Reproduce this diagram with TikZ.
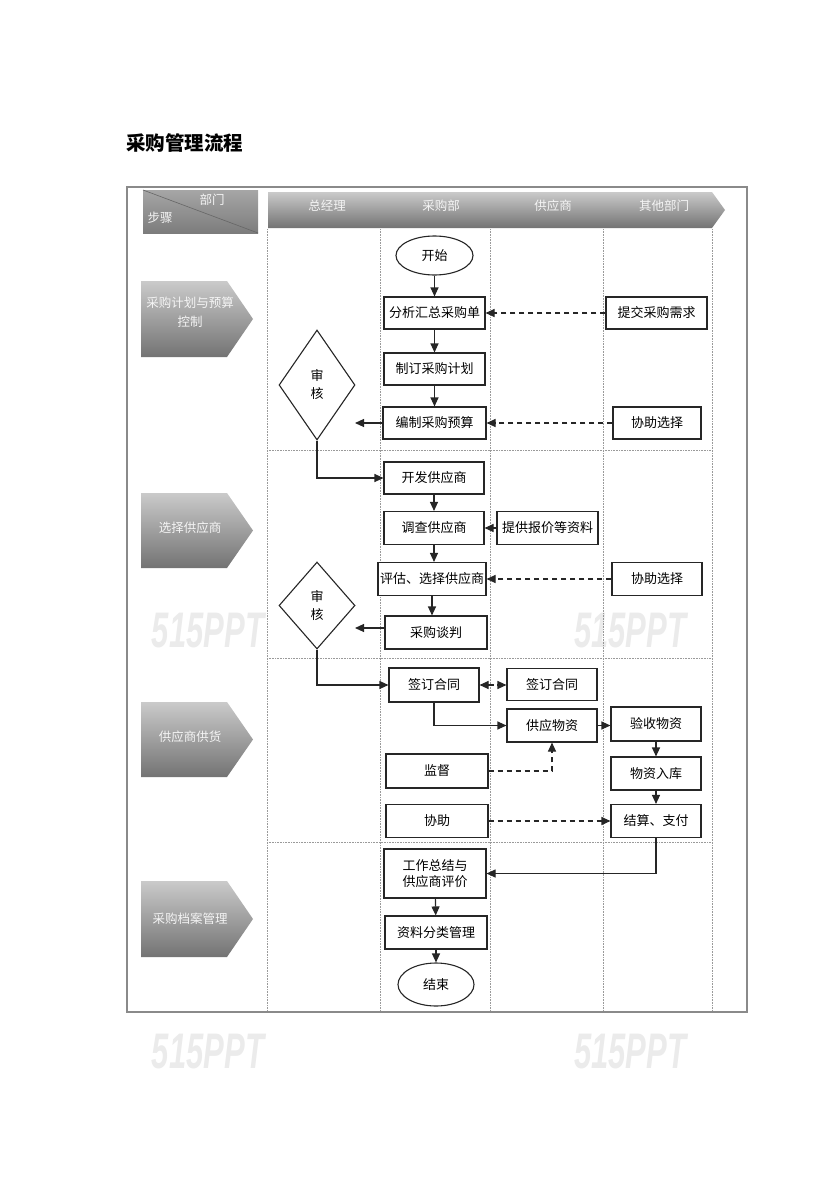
\documentclass[tikz,border=0pt]{standalone}
\usepackage{fontspec}
\setmainfont{Noto Sans CJK SC}
\newfontfamily\wmfont{Liberation Sans}
\usetikzlibrary{arrows.meta,shapes.geometric,calc}
\definecolor{ln}{HTML}{262626}
\definecolor{lane}{HTML}{9A9A9A}
\definecolor{frm}{HTML}{8A8A8A}
\definecolor{hdtop}{HTML}{CACACA}
\definecolor{hdbot}{HTML}{737373}
\definecolor{lbtop}{HTML}{A6A6A6}
\definecolor{lbbot}{HTML}{7C7C7C}
\definecolor{hdtxt}{HTML}{F4F4F4}
\tikzset{
 sz/.style 2 args={minimum width=#1pt, minimum height=#2pt},
 box/.style={draw=ln, line width=1.1pt, fill=white, inner sep=0pt, font=\fontsize{13}{16}\selectfont, align=center},
 term/.style={box, ellipse},
 dia/.style={draw=ln, line width=1.1pt, fill=white, diamond, inner sep=0pt, font=\fontsize{13}{18}\selectfont, align=center},
 flow/.style={draw=ln, line width=1.1pt, -{Triangle[length=9pt,width=8pt]}},
 dflow/.style={flow, dash pattern=on 5.5pt off 3.5pt},
 laneline/.style={draw=lane, line width=0.7pt, dash pattern=on 0.8pt off 0.8pt},
 hdtext/.style={text=hdtxt, font=\fontsize{12.5}{14}\selectfont, inner sep=0pt},
 stagetext/.style={text=hdtxt, font=\fontsize{12.5}{19}\selectfont, align=center, inner sep=0pt},
 stage/.style={top color=hdtop, bottom color=hdbot, draw=none},
 wm/.style={text=gray, text opacity=0.16, font=\wmfont\bfseries\itshape\fontsize{50}{50}\selectfont, inner sep=0pt},
}
\begin{document}
\begin{tikzpicture}[x=1pt,y=-1pt]
\useasboundingbox (0,0) rectangle (840,1188);
% title
\node[anchor=west, inner sep=0pt, font=\bfseries\fontsize{19.5}{20}\selectfont] (title) at (126,143) {采购管理流程};
% frame
\draw[frm, line width=1.3pt] (127,187) rectangle (747,1012);
\draw[frm, line width=2.5pt] (127,1012) -- (747,1012);
% header
\shade[top color=lbtop, bottom color=lbbot] (143,190) rectangle (258,233);
\draw[draw=black!60, line width=0.6pt] (143,190) -- (258,233);
\node[hdtext] (hdept) at (212,200) {部门};
\node[hdtext] (hstep) at (160,218) {步骤};
\shade[top color=hdtop, bottom color=hdbot] (268,192) -- (712,192) -- (725,210) -- (712,228) -- (268,228) -- cycle;
\node[hdtext] (h1) at (327,206) {总经理};
\node[hdtext] (h2) at (441,206) {采购部};
\node[hdtext] (h3) at (553,206) {供应商};
\node[hdtext] (h4) at (664,206) {其他部门};
% lanes
\foreach \lx in {267,380,490,603,712} {\draw[laneline] (\lx,229) -- (\lx,1011);}
\foreach \ly in {450,658,842} {\draw[laneline] (267,\ly) -- (712,\ly);}
% stages
\foreach \ty/\by in {281/357,493/568,702/777,881/957} {
  \shade[stage] (141,\ty) -- (227,\ty) -- (253,{(\ty+\by)/2}) -- (227,\by) -- (141,\by) -- cycle;
}
\node[stagetext] (st1) at (190,312) {采购计划与预算\\控制};
\node[stagetext] (st2) at (190,528) {选择供应商};
\node[stagetext] (st3) at (190,737) {供应商供货};
\node[stagetext] (st4) at (190,919) {采购档案管理};
% nodes
\node[term, sz={77}{39}] (start) at (434.5,255.5) {开始};
\node[box, sz={101}{32}] (a1) at (434.5,313) {分析汇总采购单};
\node[box, sz={101}{32}] (r1) at (656.5,313) {提交采购需求};
\node[box, sz={101}{32}] (a2) at (434.5,369) {制订采购计划};
\node[box, sz={103}{32}] (a3) at (434.5,423) {编制采购预算};
\node[box, sz={88}{32}] (r2) at (657,423) {协助选择};
\node[dia, sz={76}{110}] (d1) at (317,385) {审\\核};
\node[box, sz={100}{32}] (b1) at (434,478) {开发供应商};
\node[box, sz={100}{33}] (b2) at (434,528) {调查供应商};
\node[box, sz={101}{33}] (s1) at (547.5,528) {提供报价等资料};
\node[box, sz={108}{33}] (b3) at (432,579) {评估、选择供应商};
\node[box, sz={90}{33}] (r3) at (657,579) {协助选择};
\node[dia, sz={76}{87}] (d2) at (317,605.5) {审\\核};
\node[box, sz={102}{33}] (b4) at (436,632.5) {采购谈判};
\node[box, sz={90}{34}] (c1) at (434,685) {签订合同};
\node[box, sz={90}{32}] (s2) at (552,684.5) {签订合同};
\node[box, sz={90}{33}] (s3) at (552,725.5) {供应物资};
\node[box, sz={90}{34}] (r4) at (656,724) {验收物资};
\node[box, sz={102}{34}] (c2) at (437,771) {监督};
\node[box, sz={90}{33}] (r5) at (656,773.5) {物资入库};
\node[box, sz={102}{33}] (c3) at (437,821) {协助};
\node[box, sz={90}{33}] (r6) at (656,821) {结算、支付};
\node[box, sz={102}{49}] (e1) at (435,873.5) {工作总结与\\供应商评价};
\node[box, sz={102}{33}] (e2) at (436,932.5) {资料分类管理};
\node[term, sz={76}{43}] (end) at (436,984.5) {结束};
\coordinate (f1) at (355,423);
\coordinate (f2) at (355,628);
% connectors
\draw[flow] (start) -- (a1);
\draw[flow] (a1) -- (a2);
\draw[flow] (a2) -- (a3);
\draw[dflow] (r1) -- (a1);
\draw[dflow] (r2) -- (a3);
\draw[flow] (a3.west) -- (f1);
\draw[flow] (d1.south) |- (b1.west);
\draw[flow] (b1) -- (b2);
\draw[flow] (b2.south) -- (b2.south |- b3.north);
\draw[flow] (b3.south) -- (b3.south |- b4.north);
\draw[dflow] (s1) -- (b2);
\draw[dflow] (r3) -- (b3);
\draw[flow] (b4.west |- f2) -- (f2);
\draw[flow] (d2.south) |- (c1.west);
\draw[dflow, {Triangle[length=9pt,width=8pt]}-{Triangle[length=9pt,width=8pt]}] (c1) -- (c1 -| s2.west);
\draw[flow] (c1.south) |- (s3.west);
\draw[flow] (s3) -- (s3 -| r4.west);
\draw[flow] (r4) -- (r5);
\draw[flow] (r5) -- (r6);
\draw[dflow] (c2.east) -| (s3.south);
\draw[dflow] (c3) -- (r6);
\draw[flow] (r6.south) |- (e1.east);
\draw[flow] (e1) -- (e2);
\draw[flow] (e2) -- (end);
% watermarks
\foreach \wx/\wy [count=\wi] in {208/631,630/631,208/1052,630/1052} {
  \node[wm] (wm\wi) at (\wx,\wy) {\scalebox{0.62}[1]{515PPT}};
}
\end{tikzpicture}
\end{document}
